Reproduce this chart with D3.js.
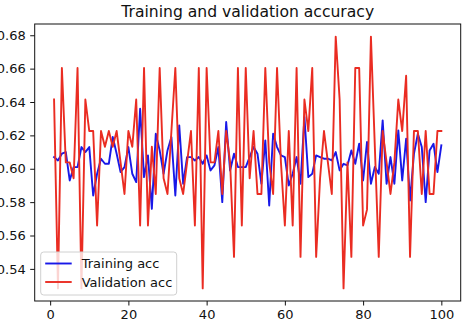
<!DOCTYPE html>
<html>
<head>
<meta charset="utf-8">
<script src="https://cdn.jsdelivr.net/npm/d3@7"></script>
<style>
  body { margin: 0; background: #fff; }
  svg { display: block; }
  text { font-family: "DejaVu Sans", sans-serif; fill: #111; }
</style>
</head>
<body>
<svg id="chart" width="474" height="329"></svg>
<script>
// Epoch numbers (x values)
const epochs = d3.range(1, 101);

// Training accuracy per epoch
const trainAcc = [
  0.607, 0.605, 0.609, 0.610, 0.593, 0.601, 0.601, 0.613, 0.610, 0.613,
  0.584, 0.597, 0.606, 0.603, 0.603, 0.619, 0.609, 0.598, 0.601, 0.613,
  0.597, 0.592, 0.636, 0.595, 0.608, 0.576, 0.621, 0.611, 0.597, 0.611,
  0.619, 0.584, 0.626, 0.591, 0.607, 0.607, 0.605, 0.607, 0.603, 0.608,
  0.599, 0.602, 0.613, 0.580, 0.628, 0.599, 0.609, 0.601, 0.601, 0.601,
  0.607, 0.613, 0.609, 0.591, 0.617, 0.578, 0.621, 0.613, 0.608, 0.607,
  0.590, 0.597, 0.607, 0.591, 0.631, 0.595, 0.597, 0.608, 0.607, 0.606,
  0.606, 0.605, 0.610, 0.599, 0.603, 0.602, 0.611, 0.603, 0.615, 0.593,
  0.616, 0.591, 0.601, 0.597, 0.629, 0.591, 0.607, 0.591, 0.623, 0.593,
  0.618, 0.581, 0.609, 0.621, 0.613, 0.580, 0.611, 0.615, 0.598, 0.614
];

// Validation accuracy per epoch
const valAcc = [
  0.6415, 0.5283, 0.6604, 0.6038, 0.6038, 0.5943, 0.6604, 0.5283, 0.6415, 0.6226,
  0.6226, 0.5660, 0.6226, 0.6132, 0.6226, 0.6132, 0.6226, 0.6038, 0.5849, 0.6226,
  0.6132, 0.6415, 0.5660, 0.6604, 0.5660, 0.6132, 0.5849, 0.6604, 0.5943, 0.5849,
  0.6226, 0.6604, 0.5943, 0.5849, 0.6038, 0.6226, 0.5660, 0.6604, 0.5283, 0.6604,
  0.6038, 0.6038, 0.6226, 0.5849, 0.6226, 0.6038, 0.5472, 0.6604, 0.5660, 0.6604,
  0.5943, 0.6226, 0.5849, 0.5849, 0.6604, 0.6038, 0.5849, 0.6604, 0.6038, 0.5660,
  0.6226, 0.5660, 0.6604, 0.5472, 0.6415, 0.6226, 0.6604, 0.5472, 0.5943, 0.6226,
  0.6038, 0.5849, 0.6792, 0.6415, 0.5283, 0.6038, 0.5472, 0.6604, 0.6604, 0.5660,
  0.5755, 0.6792, 0.6132, 0.5472, 0.6226, 0.6038, 0.5849, 0.6038, 0.6415, 0.6226,
  0.6557, 0.5472, 0.6226, 0.6226, 0.5849, 0.6226, 0.5849, 0.5849, 0.6226, 0.6226
];

const xTicks = [0, 20, 40, 60, 80, 100];
const yTicks = [0.54, 0.56, 0.58, 0.60, 0.62, 0.64, 0.66, 0.68];
const seriesNames = ["Training acc", "Validation acc"];
const seriesColors = ["#1818e8", "#ea2c22"];
const titleText = "Training and validation accuracy";

const svg = d3.select("#chart");
const plot = { left: 34.7, right: 460.7, top: 24, bottom: 301 };

// Autoscale with a 5% margin on each side
const xExt = d3.extent(epochs);
const xPad = (xExt[1] - xExt[0]) * 0.05;
const yExt = d3.extent(trainAcc.concat(valAcc));
const yPad = (yExt[1] - yExt[0]) * 0.05;

const x = d3.scaleLinear()
  .domain([xExt[0] - xPad, xExt[1] + xPad])
  .range([plot.left, plot.right]);
const y = d3.scaleLinear()
  .domain([yExt[0] - yPad, yExt[1] + yPad])
  .range([plot.bottom, plot.top]);

// Axes
const xAxis = d3.axisBottom(x).tickValues(xTicks).tickFormat(d3.format("d"))
  .tickSize(4.5).tickPadding(4);
const yAxis = d3.axisLeft(y).tickValues(yTicks).tickFormat(d3.format(".2f"))
  .tickSize(4.5).tickPadding(4.5);

const gx = svg.append("g").attr("transform", `translate(0,${plot.bottom})`).call(xAxis);
const gy = svg.append("g").attr("transform", `translate(${plot.left},0)`).call(yAxis);
[gx, gy].forEach(g => {
  g.select(".domain").remove();
  g.selectAll(".tick line").attr("stroke", "#111").attr("stroke-width", 1);
  g.selectAll(".tick text").attr("font-size", 13).attr("fill", "#111")
    .attr("font-family", "DejaVu Sans, sans-serif");
});

// Series lines
const series = [trainAcc, valAcc];
const line = d3.line().x((d, i) => x(epochs[i])).y(d => y(d));
svg.append("g").selectAll("path").data(series).join("path")
  .attr("d", d => line(d))
  .attr("fill", "none")
  .attr("stroke", (d, i) => seriesColors[i])
  .attr("stroke-width", 1.9)
  .attr("stroke-linejoin", "round")
  .attr("stroke-linecap", "square");

// Frame
svg.append("rect")
  .attr("x", plot.left).attr("y", plot.top)
  .attr("width", plot.right - plot.left).attr("height", plot.bottom - plot.top)
  .attr("fill", "none").attr("stroke", "#111").attr("stroke-width", 1);

// Title
svg.append("text")
  .attr("x", (plot.left + plot.right) / 2).attr("y", 16.5)
  .attr("text-anchor", "middle").attr("font-size", 15.6)
  .text(titleText);

// Legend
const lg = svg.append("g").attr("transform", "translate(40.7,252)");
lg.append("rect")
  .attr("width", 136).attr("height", 43).attr("rx", 3)
  .attr("fill", "#fff").attr("fill-opacity", 0.8)
  .attr("stroke", "#d0d0d0").attr("stroke-width", 1);
seriesNames.forEach((name, i) => {
  const cy = 11.5 + i * 18.5;
  lg.append("line")
    .attr("x1", 4.5).attr("x2", 31).attr("y1", cy).attr("y2", cy)
    .attr("stroke", seriesColors[i]).attr("stroke-width", 1.9);
  lg.append("text")
    .attr("x", 41).attr("y", cy).attr("dy", "0.36em")
    .attr("font-size", 13).text(name);
});
</script>
</body>
</html>
